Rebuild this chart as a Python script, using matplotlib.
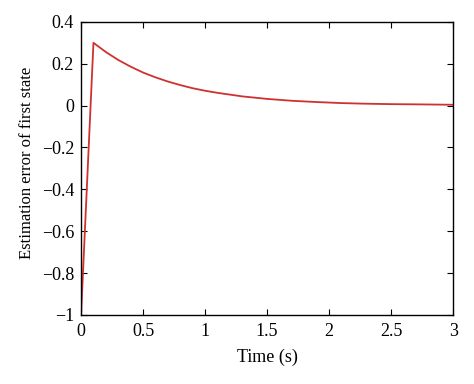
import matplotlib
matplotlib.use("Agg")
import matplotlib.pyplot as plt

# values
tiempo = [0.0, 0.1, 0.2, 0.3, 0.4, 0.5, 0.6, 0.7, 0.8, 0.9, 1.0, 1.1,
          1.3, 1.5, 1.7, 1.9, 2.1, 2.3, 2.5, 2.7, 3.0]
error = [-1.0, 0.300, 0.256, 0.218, 0.186, 0.158, 0.135, 0.115, 0.098, 0.083,
         0.071, 0.061, 0.044, 0.032, 0.023, 0.017, 0.012, 0.009, 0.007, 0.006, 0.004]

x_ticks = [0, 0.5, 1, 1.5, 2, 2.5, 3]
x_labels = ["0", "0.5", "1", "1.5", "2", "2.5", "3"]
y_ticks = [-1, -0.8, -0.6, -0.4, -0.2, 0, 0.2, 0.4]
y_labels = ["\u22121", "\u22120.8", "\u22120.6", "\u22120.4", "\u22120.2", "0", "0.2", "0.4"]

plt.rcParams["font.family"] = ["Liberation Serif", "DejaVu Serif"]

fig = plt.figure(figsize=(4.74, 3.84), dpi=100)
ax = fig.add_axes([0.171, 0.180, 0.785, 0.763])
ax.plot(tiempo, error, color="#d03030", linewidth=1.3)

ax.set_xlim(0, 3)
ax.set_ylim(-1, 0.4)
ax.set_xticks(x_ticks)
ax.set_xticklabels(x_labels)
ax.set_yticks(y_ticks)
ax.set_yticklabels(y_labels)
ax.tick_params(direction="in", top=True, right=True, labelsize=13, length=4, width=0.8)
ax.tick_params(axis="x", pad=6)
ax.tick_params(axis="y", pad=5)
for s in ax.spines.values():
    s.set_linewidth(1.0)
ax.set_xlabel("Time (s)", fontsize=13, labelpad=6)
ax.set_ylabel("Estimation error of first state", fontsize=12)
ax.yaxis.set_label_coords(-0.125, 0.52)

fig.savefig("out.png", dpi=100)
